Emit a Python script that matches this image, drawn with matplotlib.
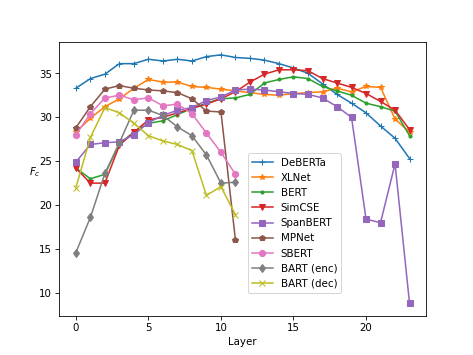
import numpy as np
import matplotlib
matplotlib.use("Agg")
import matplotlib.pyplot as plt

# F_c per layer
deberta = [33.3, 34.4, 34.9, 36.1, 36.1, 36.6, 36.4, 36.6, 36.4, 36.9, 37.1, 36.8,
           36.7, 36.5, 36.1, 35.6, 35.0, 33.8, 32.6, 31.6, 30.5, 29.0, 27.6, 25.3]
xlnet = [28.3, 29.9, 31.2, 32.1, 33.3, 34.3, 34.0, 34.0, 33.5, 33.4, 33.2, 33.0,
         32.8, 32.6, 32.5, 32.7, 32.8, 32.9, 33.3, 32.9, 33.5, 33.4, 29.8, 28.3]
bert = [24.2, 23.0, 23.5, 27.0, 28.3, 29.3, 29.6, 30.3, 31.0, 31.6, 32.1, 32.2,
        32.6, 33.9, 34.3, 34.6, 34.4, 33.5, 33.0, 32.5, 31.6, 31.2, 30.7, 27.9]
simcse = [24.2, 22.5, 22.5, 26.8, 28.3, 29.7, 30.0, 30.5, 31.0, 31.5, 32.1, 32.9,
          34.0, 34.9, 35.4, 35.4, 35.3, 34.4, 33.9, 33.4, 32.7, 31.8, 30.8, 28.6]
spanbert = [24.9, 26.9, 27.1, 27.2, 28.0, 29.4, 30.2, 30.8, 31.1, 31.9, 32.3, 33.1,
            33.2, 33.1, 32.9, 32.7, 32.6, 32.2, 31.2, 30.0, 18.4, 18.0, 24.7, 8.8]
mpnet = [28.8, 31.2, 33.2, 33.6, 33.3, 33.1, 33.0, 32.8, 32.1, 30.7, 30.6, 16.0]
sbert = [28.0, 30.4, 32.2, 32.5, 32.0, 32.2, 31.3, 31.5, 30.4, 28.2, 26.0, 23.5]
bart_enc = [14.6, 18.6, 23.6, 27.1, 30.8, 30.8, 30.2, 28.9, 27.9, 25.7, 22.5, 22.6]
bart_dec = [22.0, 27.7, 31.1, 30.5, 29.3, 27.9, 27.3, 26.9, 26.2, 21.1, 22.1, 18.9]

series = [
    ("DeBERTa", deberta, "+"),
    ("XLNet", xlnet, "*"),
    ("BERT", bert, "."),
    ("SimCSE", simcse, "v"),
    ("SpanBERT", spanbert, "s"),
    ("MPNet", mpnet, "p"),
    ("SBERT", sbert, "o"),
    ("BART (enc)", bart_enc, "d"),
    ("BART (dec)", bart_dec, "x"),
]

fig, ax = plt.subplots(figsize=(6.4, 4.8), dpi=74)

for name, vals, mk in series:
    ax.plot(np.arange(len(vals)), vals, marker=mk, label=name)

ax.set_xlabel("Layer")
ax.set_ylabel("$F_c$", rotation=0)
ax.legend(loc="upper left", bbox_to_anchor=(0.514, 0.594), borderaxespad=0)

plt.savefig("out.png", dpi=74)
